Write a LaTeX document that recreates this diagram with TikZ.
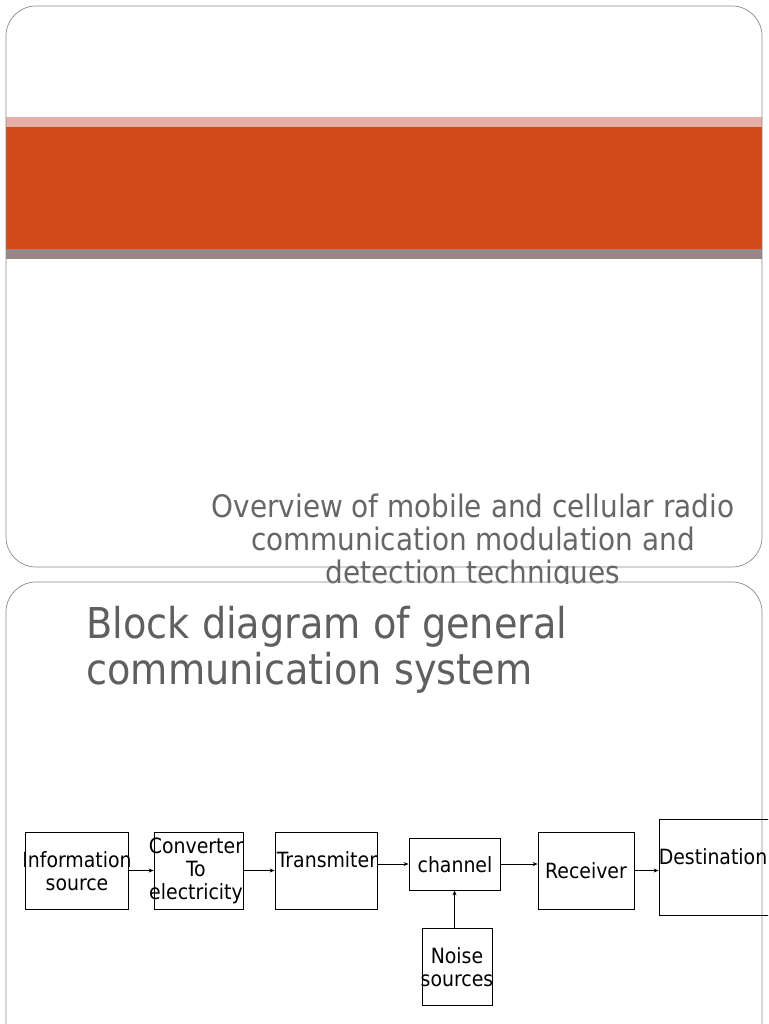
\documentclass[tikz,border=0pt]{standalone}
\usepackage{fontspec}
\setmainfont{DejaVu Sans}
\newfontfamily\condf{DejaVu Sans Condensed}
\usetikzlibrary{arrows.meta}
\definecolor{pinkband}{HTML}{E6B0A8}
\definecolor{orangeband}{HTML}{D24A1A}
\definecolor{greyband}{HTML}{978787}
\definecolor{subgrey}{HTML}{666666}
\definecolor{titlegrey}{HTML}{5F5F5F}
\definecolor{framegrey}{HTML}{8A8A8A}
\tikzset{
  blockbox/.style={draw=black, line width=0.8pt, inner sep=0pt, minimum width=#1},
  blocktext/.style={font=\condf\fontsize{21}{23}\selectfont, align=center, inner sep=0pt},
  flow/.style={-{Stealth[length=5pt,width=4pt]}, line width=0.8pt},
  slide/.style={draw=framegrey, line width=0.7pt, rounded corners=30pt}
}
\begin{document}
\begin{tikzpicture}[x=1pt,y=-1pt]
\useasboundingbox (0,0) rectangle (768,1024);
\clip (0,0) rectangle (768,1024);
\fill[white] (0,0) rectangle (768,1024);
% slide 1
\begin{scope}
\clip[rounded corners=30pt] (6,6) rectangle (762,567);
\fill[pinkband] (0,117) rectangle (768,127);
\fill[orangeband] (0,127) rectangle (768,249);
\fill[greyband] (0,249) rectangle (768,259);
\end{scope}
\draw[slide] (6,6) rectangle (762,567);
\begin{scope}
\clip (0,0) rectangle (768,583);
\node[font=\condf\fontsize{31}{33}\selectfont, text=subgrey, align=center, anchor=north] (sub) at (473,490)
 {Overview of mobile and cellular radio\\communication modulation and\\detection techniques};
\end{scope}
% slide 2
\draw[slide] (6,582) rectangle (762,1060);
\node[font=\condf\fontsize{42.5}{46}\selectfont, text=titlegrey, align=left, anchor=north west] (title) at (83,603)
 {Block diagram of general\\communication system};
% blocks
\node[blockbox=103pt, minimum height=77pt] (info) at (76.5,870.5) {};
\node[blockbox=89pt, minimum height=77pt] (conv) at (198.5,870.5) {};
\node[blockbox=102pt, minimum height=77pt] (trans) at (326,870.5) {};
\node[blockbox=91pt, minimum height=52pt] (ch) at (454.5,864) {};
\node[blockbox=96pt, minimum height=77pt] (rx) at (586,870.5) {};
\node[blockbox=120pt, minimum height=96pt] (dest) at (719,867) {};
\node[blockbox=70pt, minimum height=77pt] (noise) at (457,966.5) {};
\node[blocktext] (tinfo) at (77,871) {Information\\source};
\node[blocktext] (tconv) at (196,871) {Converter\\To\\electricity};
\node[blocktext] (ttrans) at (327,860) {Transmiter};
\node[blocktext] (tch) at (455,865) {channel};
\node[blocktext] (trx) at (586,871) {Receiver};
\node[blocktext] (tdest) at (713,857) {Destination};
\node[blocktext] (tnoise) at (457,967) {Noise\\sources};
% connectors
\draw[flow] (info.east) -- (conv.west);
\draw[flow] (conv.east) -- (trans.west);
\draw[flow] (trans.east |- ch.west) -- (ch.west);
\draw[flow] (ch.east) -- (rx.west |- ch.east);
\draw[flow] (rx.east) -- (dest.west |- rx.east);
\draw[flow] (ch.south |- noise.north) -- (ch.south);
\end{tikzpicture}
\end{document}
